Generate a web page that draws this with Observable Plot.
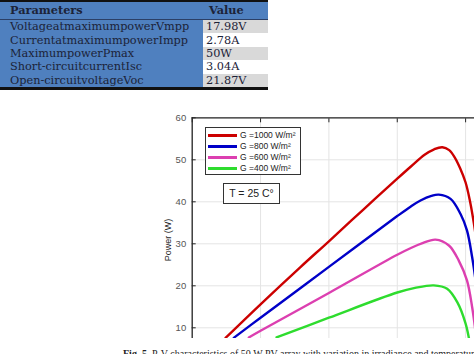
<!DOCTYPE html>
<html>
<head>
<meta charset="utf-8">
<script src="https://cdn.jsdelivr.net/npm/d3@7"></script>
<script src="https://cdn.jsdelivr.net/npm/@observablehq/plot@0.6"></script>
<style>
  html, body { margin: 0; padding: 0; background: #fff; }
  body { width: 474px; height: 354px; overflow: hidden; position: relative; }
  #table { position: absolute; left: 0; top: 0; width: 268px; border-collapse: collapse;
    font-family: "DejaVu Serif", "Liberation Serif", serif; font-size: 11.3px; color: #1c2338;
    background: #4f80bf; border-top: 2.5px solid #111; border-bottom: 3px solid #111; }
  #table th { text-align: left; font-weight: bold; height: 16px; padding: 0 0 1px 10px; border-bottom: 1px solid #2b3f66; line-height: 15px; }
  #table td { height: 13.4px; line-height: 13px; padding: 0 0 0 10px; white-space: nowrap; }
  #table td.v { padding-left: 3px; width: 62px; }
  #table th.v { padding-left: 6px; }
  #chart { position: absolute; left: 0; top: 100px; width: 560px; }
  #chart svg { max-width: none !important; }
  #legend { position: absolute; left: 205px; top: 127px; width: 96px; height: 48px; background: #fff;
    border: 1px solid #333; box-sizing: border-box; font-family: "Liberation Sans", Arial, sans-serif; font-size: 8.5px; color: #222; }
  .row { position: absolute; left: 2px; height: 10px; }
  .row .sw { position: absolute; left: 0; top: 4px; width: 29px; height: 2.5px; }
  .row .lb { position: absolute; left: 32px; top: 0; line-height: 10px; white-space: nowrap; }
  #tbox { position: absolute; left: 223px; top: 183px; width: 57px; height: 21px; background: #fff;
    border: 1px solid #333; box-sizing: border-box; font-family: "Liberation Sans", Arial, sans-serif; font-size: 10.5px;
    line-height: 19px; text-align: center; color: #222; }
  #ylabel { position: absolute; left: 168px; top: 240px; transform: translate(-50%, -50%) rotate(-90deg);
    font-family: "Liberation Sans", Arial, sans-serif; font-size: 9px; color: #262626; white-space: nowrap; }
  #caption { position: absolute; left: 0; top: 338px; width: 474px; height: 16px; background: #fff;
    font-family: "Liberation Serif", serif; font-size: 10px; color: #222; white-space: nowrap; }
  #caption span.t { position: absolute; left: 123px; top: 10px; line-height: 12px; }
</style>
</head>
<body>
<table id="table">
  <thead><tr><th>Parameters</th><th class="v">Value</th></tr></thead>
  <tbody id="tbody"></tbody>
</table>
<div id="chart"></div>
<div id="ylabel">Power (W)</div>
<div id="legend"></div>
<div id="tbox">T = 25 C°</div>
<div id="caption"><span class="t"><b>Fig. 5.</b> P-V characteristics of 50 W PV array with variation in irradiance and temperature</span></div>
<script>
// Table
const paramNames = ["VoltageatmaximumpowerVmpp", "CurrentatmaximumpowerImpp", "MaximumpowerPmax", "Short-circuitcurrentIsc", "Open-circuitvoltageVoc"];
const paramValues = ["17.98V", "2.78A", "50W", "3.04A", "21.87V"];

// Chart data (voltage V, power W)
const seriesLabels = ["G =1000 W/m²", "G =800 W/m²", "G =600 W/m²", "G =400 W/m²"];
const seriesColors = ["#cc0000", "#0000c8", "#dc3fb0", "#2edc2e"];
const v1000 = [2.44, 5, 7.9, 10, 12.5, 15, 16, 17, 17.7, 18.3, 18.8, 19.2, 19.6, 20.0, 20.3, 20.6, 20.9];
const p1000 = [7.6, 15.6, 24.4, 30.6, 38.1, 45.5, 48.4, 51.2, 52.5, 53.0, 52.3, 50.6, 48.0, 44.6, 40.5, 35.0, 28.0];
const v800 = [3.04, 5, 10, 15, 16, 16.7, 17.5, 18.04, 18.9, 19.63, 20.1, 20.48, 20.7, 20.9];
const p800 = [7.6, 12.4, 24.5, 36.6, 38.9, 40.3, 41.4, 41.7, 40.7, 37.1, 33.2, 26.8, 22.0, 17.0];
const v600 = [4.14, 5, 10, 15, 16, 16.8, 17.8, 18.78, 19.5, 20.1, 20.48, 20.65, 20.8];
const p600 = [7.7, 9.3, 18.3, 27.4, 29.0, 30.1, 31.0, 29.6, 26.0, 21.3, 14.9, 11.0, 7.0];
const v400 = [6.17, 10, 15, 16.3, 17.67, 18.65, 19.39, 20.0, 20.3];
const p400 = [7.7, 12.4, 18.4, 19.5, 20.1, 19.3, 16.1, 11.0, 6.5];
const xTicks = [0, 5, 10, 15, 20, 25];
const yTicks = [10, 20, 30, 40, 50, 60];

const tbody = document.getElementById("tbody");
paramNames.forEach((n, i) => {
  const tr = document.createElement("tr");
  const a = document.createElement("td"); a.textContent = n;
  const b = document.createElement("td"); b.textContent = paramValues[i]; b.className = "v";
  b.style.background = i % 2 === 0 ? "#d9d9d9" : "#ffffff";
  tr.appendChild(a); tr.appendChild(b); tbody.appendChild(tr);
});

const legend = document.getElementById("legend");
seriesLabels.forEach((l, i) => {
  const r = document.createElement("div"); r.className = "row"; r.style.top = (2 + i * 11) + "px";
  r.innerHTML = `<div class="sw" style="background:${seriesColors[i]}"></div><div class="lb">${l}</div>`;
  legend.appendChild(r);
});

const vs = [v1000, v800, v600, v400], ps = [p1000, p800, p600, p400];
const data = [];
vs.forEach((v, s) => v.forEach((x, j) => data.push({V: x, P: ps[s][j], G: seriesLabels[s]})));

const chart = Plot.plot({
  width: 560, height: 300,
  marginLeft: 191.7, marginRight: 26.55, marginTop: 17.3, marginBottom: 30.7,
  style: {background: "transparent", overflow: "visible", maxWidth: "none", fontFamily: "Liberation Sans, Arial, sans-serif"},
  x: {domain: [0, 25], label: null},
  y: {domain: [0, 60], label: null},
  color: {domain: seriesLabels, range: seriesColors},
  marks: [
    Plot.ruleX(xTicks, {stroke: "#e4e4e4", strokeWidth: 1}),
    Plot.ruleY(yTicks, {stroke: "#e4e4e4", strokeWidth: 1}),
    Plot.line(data, {x: "V", y: "P", z: "G", stroke: "G", strokeWidth: 2.4, curve: "catmull-rom"}),
    Plot.ruleX([0], {stroke: "#262626", strokeWidth: 1.3}),
    Plot.ruleY([60], {stroke: "#262626", strokeWidth: 1.3}),
    Plot.axisY({anchor: "left", label: null, ticks: yTicks, tickSize: -4, tickPadding: 10, fontSize: 9.5, color: "#555", stroke: "#262626"}),
    Plot.axisX({anchor: "top", label: null, ticks: xTicks, tickSize: -4, tickFormat: () => "", stroke: "#262626"})
  ]
});
document.getElementById("chart").appendChild(chart);
</script>
</body>
</html>
